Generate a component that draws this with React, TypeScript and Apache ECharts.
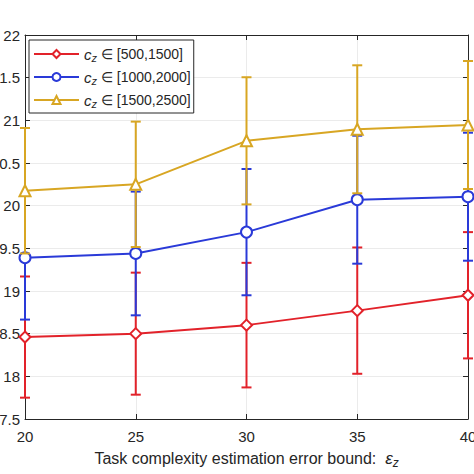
import React, { useEffect, useRef } from "react";
import * as echarts from "echarts";

// Task complexity estimation error bound (x) and the three c_z ranges
const xValues = [20, 25, 30, 35, 40];
const seriesNames = ["[500,1500]", "[1000,2000]", "[1500,2500]"];
const redMean = [18.46, 18.5, 18.6, 18.77, 18.95];
const redErr = [0.71, 0.715, 0.73, 0.74, 0.74];
const blueMean = [19.39, 19.44, 19.69, 20.07, 20.105];
const blueErr = [0.725, 0.725, 0.74, 0.75, 0.75];
const goldMean = [20.175, 20.25, 20.76, 20.895, 20.945];
const goldErr = [0.735, 0.735, 0.745, 0.75, 0.75];

const colors = ["#e2222a", "#2a3ad8", "#d8a623"];
const symbols = ["emptyDiamond", "emptyCircle", "emptyTriangle"];
const FONT = "'Liberation Sans', Arial, Helvetica, sans-serif";
const INK = "#262626";

function lineData(mean: number[]) {
  return xValues.map((x, i) => [x, mean[i]]);
}
function barData(mean: number[], err: number[]) {
  return xValues.map((x, i) => [x, mean[i] - err[i], mean[i] + err[i]]);
}

function errorBarSeries(name: string, color: string, data: number[][], z: number) {
  return {
    name,
    type: "custom",
    z,
    data,
    encode: { x: 0, y: [1, 2] },
    renderItem: (_params: any, api: any) => {
      const x = api.value(0);
      const lo = api.coord([x, api.value(1)]);
      const hi = api.coord([x, api.value(2)]);
      const hw = 5;
      const style = { stroke: color, lineWidth: 2 };
      return {
        type: "group",
        children: [
          { type: "line", shape: { x1: lo[0], y1: lo[1], x2: hi[0], y2: hi[1] }, style },
          { type: "line", shape: { x1: lo[0] - hw, y1: lo[1], x2: lo[0] + hw, y2: lo[1] }, style },
          { type: "line", shape: { x1: hi[0] - hw, y1: hi[1], x2: hi[0] + hw, y2: hi[1] }, style },
        ],
      };
    },
  };
}

function lineSeries(name: string, color: string, symbol: string, data: number[][], z: number) {
  return {
    name,
    type: "line",
    z,
    data,
    symbol,
    symbolSize: 11,
    showAllSymbol: true,
    lineStyle: { color, width: 2 },
    itemStyle: { color, borderColor: color, borderWidth: 2 },
  };
}

export default function App() {
  const ref = useRef<HTMLDivElement>(null);

  useEffect(() => {
    if (!ref.current) return;
    const chart = echarts.init(ref.current, undefined, { renderer: "svg" });

    const means = [redMean, blueMean, goldMean];
    const errs = [redErr, blueErr, goldErr];
    const series: any[] = [];
    seriesNames.forEach((n, i) => {
      series.push(errorBarSeries("err" + i, colors[i], barData(means[i], errs[i]), 2 + i * 2));
      series.push(lineSeries(n, colors[i], symbols[i], lineData(means[i]), 3 + i * 2));
    });

    const axisCommon = {
      axisLine: { show: true, lineStyle: { color: INK, width: 1 } },
      axisTick: { show: true, inside: true, length: 5, lineStyle: { color: INK } },
    };

    chart.setOption({
      animation: false,
      backgroundColor: "#ffffff",
      textStyle: { fontFamily: FONT },
      grid: {
        left: 25,
        top: 35,
        right: 6,
        bottom: 55,
        containLabel: false,
        outerBoundsMode: "none",
      },
      legend: {
        data: seriesNames,
        orient: "vertical",
        left: 29,
        top: 40,
        itemWidth: 45,
        itemHeight: 10,
        itemGap: 5,
        padding: [5, 3, 4, 4],
        borderColor: INK,
        borderWidth: 1,
        borderRadius: 0,
        backgroundColor: "#ffffff",
        formatter: (name: string) => "{i|c}{s|z}{t| \u2208 " + name + "}",
        textStyle: {
          color: INK,
          fontSize: 14,
          fontFamily: FONT,
          rich: {
            i: { fontStyle: "italic", fontSize: 15, lineHeight: 18, fontFamily: FONT, color: INK },
            s: {
              fontStyle: "italic",
              fontSize: 11,
              lineHeight: 11,
              fontFamily: FONT,
              color: INK,
              padding: [7, 0, 0, 0],
            },
            t: { fontSize: 14, lineHeight: 18, fontFamily: FONT, color: INK },
          },
        },
      },
      xAxis: [
        {
          type: "value",
          min: 20,
          max: 40,
          interval: 5,
          ...axisCommon,
          axisLabel: { color: INK, fontSize: 15, margin: 10, fontFamily: FONT },
          splitLine: { show: true, lineStyle: { color: "#ebebeb", width: 1 } },
          name: "Task complexity estimation error bound:  {e|\u03b5}{s|z}",
          nameLocation: "middle",
          nameGap: 29,
          nameTextStyle: {
            color: INK,
            fontSize: 16,
            fontFamily: FONT,
            rich: {
              e: { fontStyle: "italic", fontSize: 17, fontFamily: FONT, color: INK },
              s: { fontStyle: "italic", fontSize: 12, fontFamily: FONT, color: INK, padding: [9, 0, 0, 0] },
            },
          },
        },
        {
          type: "value",
          position: "top",
          min: 20,
          max: 40,
          interval: 5,
          ...axisCommon,
          axisLabel: { show: false },
          splitLine: { show: false },
        },
      ],
      yAxis: [
        {
          type: "value",
          min: 17.5,
          max: 22,
          interval: 0.5,
          ...axisCommon,
          axisLabel: { color: INK, fontSize: 15, margin: 5, fontFamily: FONT },
          splitLine: { show: true, lineStyle: { color: "#ebebeb", width: 1 } },
        },
        {
          type: "value",
          position: "right",
          min: 17.5,
          max: 22,
          interval: 0.5,
          ...axisCommon,
          axisLabel: { show: false },
          splitLine: { show: false },
        },
      ],
      series,
    });

    return () => chart.dispose();
  }, []);

  return (
    <div
      ref={ref}
      style={{ position: "absolute", left: 0, top: 0, width: 474, height: 474 }}
    />
  );
}
